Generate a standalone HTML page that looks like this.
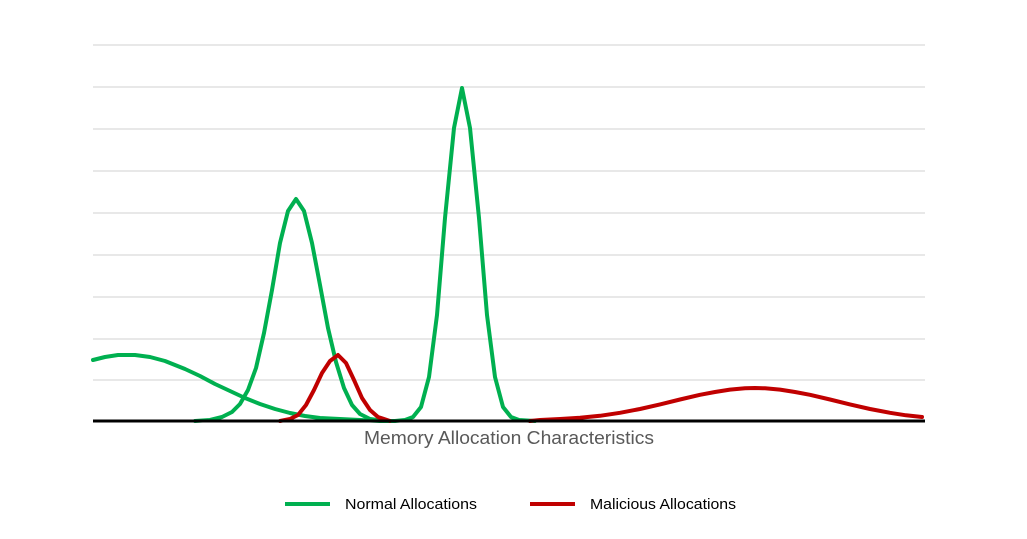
<!DOCTYPE html>
<html><head><meta charset="utf-8"><style>
html,body{margin:0;padding:0;background:#fff;}
svg{display:block;font-family:"Liberation Sans",sans-serif;}
</style></head><body>
<svg width="1027" height="539" viewBox="0 0 1027 539" xmlns="http://www.w3.org/2000/svg">
<g stroke="#d9d9d9" stroke-width="1.3">
<line x1="93" y1="45" x2="925" y2="45"/>
<line x1="93" y1="87" x2="925" y2="87"/>
<line x1="93" y1="129" x2="925" y2="129"/>
<line x1="93" y1="171" x2="925" y2="171"/>
<line x1="93" y1="213" x2="925" y2="213"/>
<line x1="93" y1="255" x2="925" y2="255"/>
<line x1="93" y1="297" x2="925" y2="297"/>
<line x1="93" y1="339" x2="925" y2="339"/>
<line x1="93" y1="380" x2="925" y2="380"/>
</g>
<g fill="none" stroke-width="4" stroke-linejoin="round" stroke-linecap="round">
<polyline stroke="#00b050" points="93,360 105,357 118,355 135,355 150,357 165,361 185,369 200,376 215,384 230,391 245,398 260,404 275,409 290,413 305,416 320,418 340,419 360,420 380,421"/>
<polyline stroke="#00b050" points="195,421 210,420 222,417 232,412 240,404 248,390 256,368 264,333 272,290 280,243 288,211 296,199 304,211 312,243 320,285 328,328 336,362 344,388 352,405 360,414 370,419 385,421"/>
<polyline stroke="#00b050" points="380,421 395,421 405,420 413,417 421,407 429,377 437,315 445,218 454,128 462,88 470,128 479,218 487,315 495,377 503,407 511,417 519,420 535,421"/>
<polyline stroke="#c00000" points="280,421 290,419 298,415 306,405 314,390 322,373 330,361 338,355 346,363 354,380 362,398 370,410 378,417 390,421"/>
<polyline stroke="#c00000" points="530,421 540,420 560,419 580,417.8 600,415.8 620,412.8 640,409 660,404.4 680,399.5 700,394.8 715,392 730,389.6 745,388.3 755,388 765,388.3 780,389.6 795,392 810,394.8 830,399.5 850,404.4 870,409 890,412.8 906,415.3 922,417"/>
</g>
<line x1="93" y1="421" x2="925" y2="421" stroke="#000" stroke-width="3"/>
<text x="364" y="444" font-size="18" fill="#595959" textLength="290" lengthAdjust="spacingAndGlyphs">Memory Allocation Characteristics</text>
<line x1="285" y1="504" x2="330" y2="504" stroke="#00b050" stroke-width="4"/>
<text x="345" y="509" font-size="15" fill="#000" textLength="132" lengthAdjust="spacingAndGlyphs">Normal Allocations</text>
<line x1="530" y1="504" x2="575" y2="504" stroke="#c00000" stroke-width="4"/>
<text x="590" y="509" font-size="15" fill="#000" textLength="146" lengthAdjust="spacingAndGlyphs">Malicious Allocations</text>
</svg>
</body></html>
